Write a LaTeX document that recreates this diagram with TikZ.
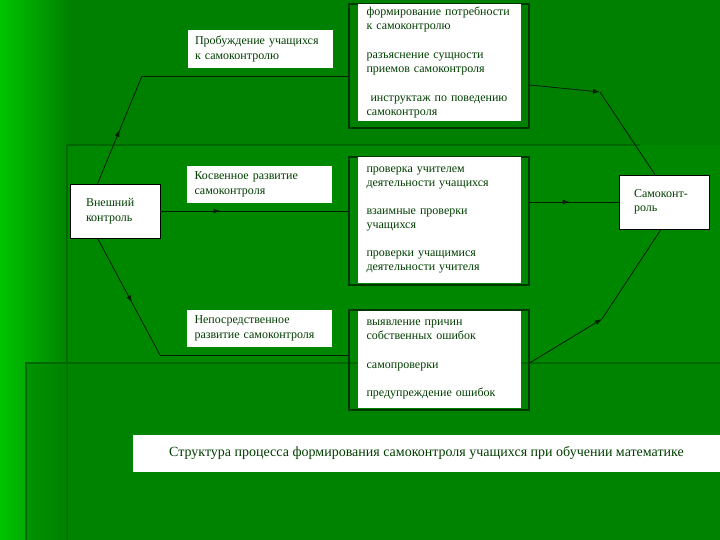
\documentclass[tikz,border=0pt]{standalone}
\usepackage{fontspec}
\setmainfont{Liberation Serif}
\usepackage{tikz}
\usetikzlibrary{decorations.markings}
\usetikzlibrary{arrows.meta}
\pgfdeclarelayer{bglayer}
\pgfdeclarelayer{edgelayer}
\pgfdeclarelayer{nodelayer}
\pgfsetlayers{bglayer,edgelayer,nodelayer,main}
\definecolor{slidegreen}{RGB}{0,128,0}
\definecolor{lightgreen}{RGB}{0,196,0}
\definecolor{panelgreen}{RGB}{0,142,0}
\definecolor{edgegreen}{RGB}{0,104,0}
\definecolor{framegreen}{RGB}{0,55,0}
\definecolor{textgreen}{RGB}{0,62,0}
\definecolor{linecolor}{RGB}{0,30,0}
\tikzstyle{label_box}=[rectangle,fill=white,text=textgreen,align=left,inner sep=0pt,minimum width=145pt,minimum height=37pt,text width=130pt,font=\fontsize{12}{14.5}\selectfont]
\tikzstyle{list_box}=[rectangle,fill=white,text=textgreen,align=left,inner sep=0pt,minimum width=163pt,text width=146pt,font=\fontsize{12}{14.5}\selectfont]
\tikzstyle{frame}=[rectangle,draw=framegreen,line width=1.2pt,inner sep=0pt,minimum width=180pt]
\tikzstyle{control}=[rectangle,fill=white,draw=black,line width=0.8pt,text=textgreen,align=left,inner sep=0pt,minimum width=90pt,minimum height=54pt,text width=58pt,font=\fontsize{12}{14.5}\selectfont]
\tikzstyle{connector}=[draw=linecolor,line width=0.8pt]
\tikzstyle{transition}[0.5]=[connector,postaction={decorate},decoration={markings,mark=at position #1 with {\arrow{Latex[length=7pt,width=5pt]}}}]
\tikzstyle{transition_end}=[connector,-{Latex[length=7pt,width=5pt]}]

\begin{document}
\begin{tikzpicture}[x=1pt,y=-1pt]
	\useasboundingbox (0,0) rectangle (720,540);
	\begin{pgfonlayer}{bglayer}
		% slide background
		\fill [slidegreen] (0,0) rectangle (720,540);
		\shade [left color=lightgreen,right color=slidegreen] (0,0) rectangle (70,540);
		\fill [panelgreen,opacity=.5] (66,145) rectangle (720,540);
		\draw [edgegreen,line width=1.6pt] (67,540) -- (67,145) -- (640,145);
		\fill [slidegreen,opacity=.55] (25,363) rectangle (720,540);
		\draw [edgegreen,line width=1.6pt] (26,540) -- (26,363) -- (720,363);
	\end{pgfonlayer}
	\begin{pgfonlayer}{nodelayer}
		\node [style=control] (0) at (115, 211) {Внешний\\контроль};
		\node [style={label_box},minimum height=38pt] (1) at (260, 49) {Пробуждение учащихся\\к самоконтролю};
		\node [style={label_box}] (2) at (259.5, 184.5) {Косвенное развитие\\самоконтроля};
		\node [style={label_box}] (3) at (259.5, 328.5) {Непосредственное\\развитие самоконтроля};
		\node [style=control,text width=60pt] (5) at (664, 202) {Самоконт-\\роль};
		% framed lists
		\node [style=frame,minimum height=124pt] (6) at (439, 66) {};
		\node [style={list_box},minimum height=117pt] (9) at (439.5, 62.5) {формирование потребности\\к самоконтролю\\[14pt]разъяснение сущности\\приемов самоконтроля\\[14pt]\ инструктаж по поведению\\самоконтроля};
		\node [style=frame,minimum height=128pt] (7) at (439, 221) {};
		\node [style={list_box},minimum height=126pt] (10) at (439.5, 220) {проверка учителем\\деятельности учащихся\\[13pt]взаимные проверки\\учащихся\\[13pt]проверки учащимися\\деятельности учителя};
		\node [style=frame,minimum height=100pt] (8) at (439, 360) {};
		\node [style={list_box},minimum height=97pt] (11) at (439.5, 359.5) {выявление причин\\собственных ошибок\\[14pt]самопроверки\\[14pt]предупреждение ошибок};
		\node [rectangle,fill=white,text=textgreen,inner sep=0pt,minimum width=587pt,minimum height=37pt,font=\fontsize{14}{16}\selectfont] (12) at (426.5, 453.5) {\raisebox{4pt}{Структура процесса формирования самоконтроля учащихся при обучении математике}};
	\end{pgfonlayer}
	\begin{pgfonlayer}{edgelayer}
		\coordinate (c1) at (142, 76);
		\coordinate (c2) at (160, 355);
		\coordinate (c3) at (600, 92);
		\coordinate (c4) at (602, 319);
		\draw [style=transition] ([xshift=28pt]0.north west) to (c1);
		\draw [style=connector] (c1) to (c1 -| 6.west);
		\draw [style={transition=0.32}] (0.east) to (0.east -| 7.west);
		\draw [style={transition=0.55}] ([xshift=28pt]0.south west) to (c2);
		\draw [style=connector] (c2) to (c2 -| 8.west);
		\draw [style={transition_end}] ([yshift=-19pt]6.east) to (c3);
		\draw [style=connector] (c3) to ([xshift=-9pt]5.north);
		\draw [style={transition=0.45}] (7.east |- 5.west) to (5.west);
		\draw [style={transition_end}] ([yshift=-3pt]8.east) to (c4);
		\draw [style=connector] (c4) to ([xshift=-3pt]5.south);
	\end{pgfonlayer}
\end{tikzpicture}
\end{document}
